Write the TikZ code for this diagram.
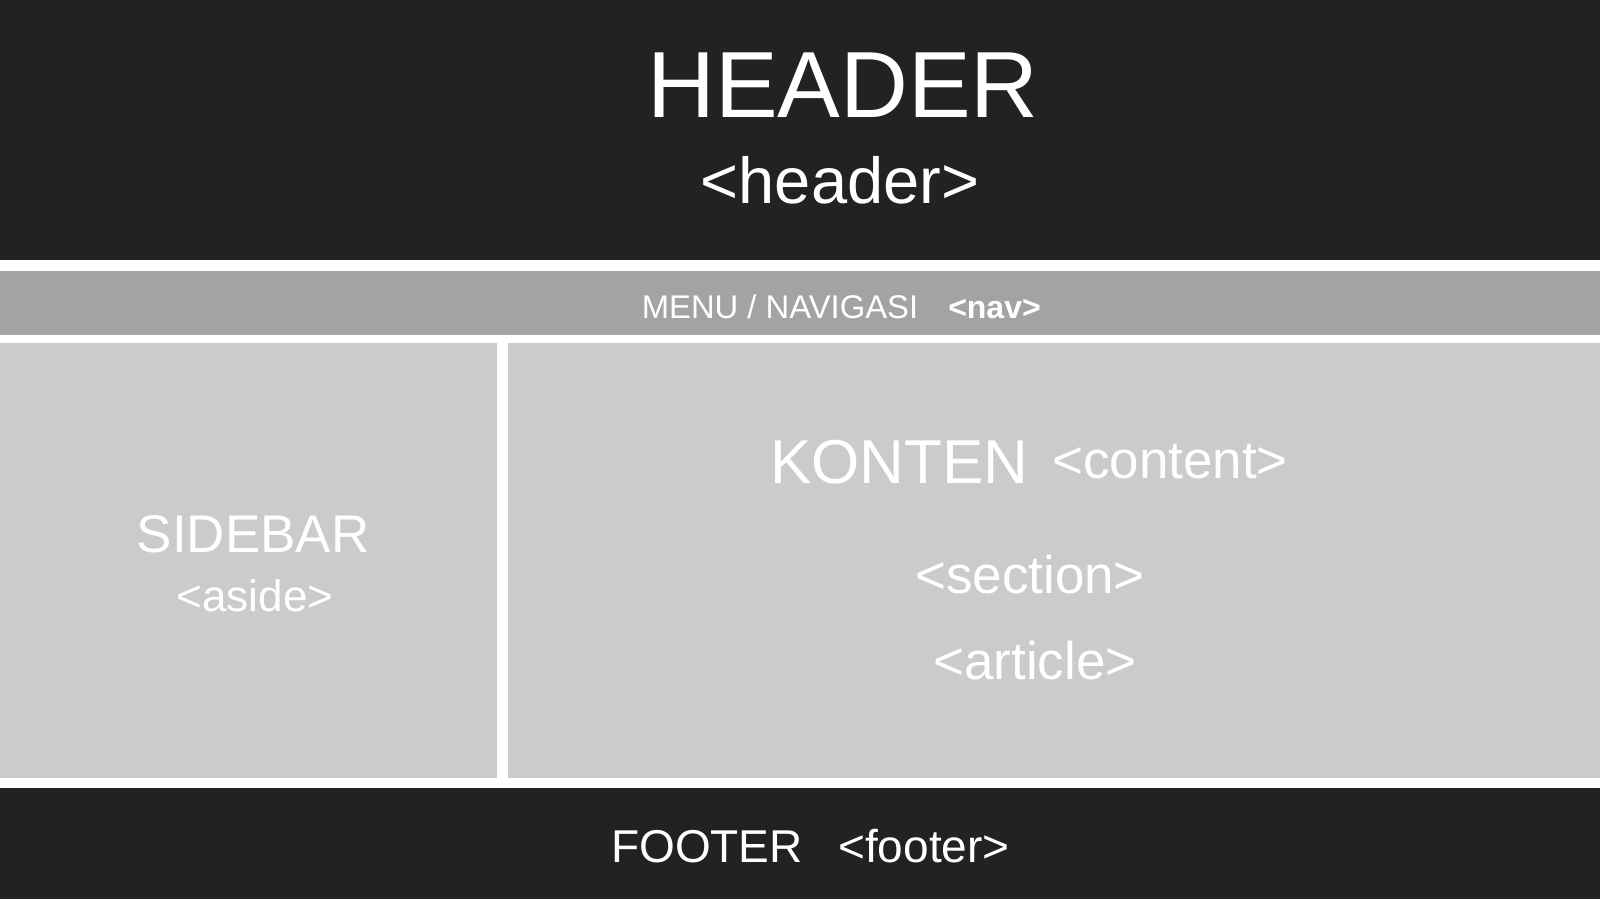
\documentclass[tikz,border=0pt]{standalone}
\usepackage{fontspec}
\setmainfont{Liberation Sans}
\definecolor{dark}{HTML}{222222}
\definecolor{navgray}{HTML}{A3A3A3}
\definecolor{lightgray}{HTML}{CACBCA}
\begin{document}
\begin{tikzpicture}[x=1pt,y=-1pt,
  lbl/.style={text=white,inner sep=0pt,anchor=base},
  fs/.style={font=\fontsize{#1}{#1}\selectfont}]
\useasboundingbox (0,0) rectangle (1600,899);
\fill[white] (0,0) rectangle (1600,899);
\fill[dark] (0,0) rectangle (1600,260);
\fill[navgray] (0,271) rectangle (1600,335);
\fill[lightgray] (0,343) rectangle (497,778);
\fill[lightgray] (508,343) rectangle (1600,778);
\fill[dark] (0,788) rectangle (1600,899);
\node[lbl,fs=94] (header) at (843,117) {HEADER};
\node[lbl,fs=65] (headertag) at (840,203) {<header>};
\node[lbl,fs=32.8] (nav) at (780,318) {MENU / NAVIGASI};
\node[lbl,font=\fontsize{32}{32}\selectfont\bfseries] (navtag) at (994.5,318) {<nav>};
\node[lbl,fs=62] (konten) at (899.5,483) {KONTEN};
\node[lbl,fs=53] (contenttag) at (1170,478) {<content>};
\node[lbl,fs=53] (section) at (1030,593) {<section>};
\node[lbl,fs=53] (article) at (1035,679) {<article>};
\node[lbl,fs=53] (sidebar) at (253,552) {SIDEBAR};
\node[lbl,fs=44] (aside) at (255,611) {<aside>};
\node[lbl,fs=46] (footer) at (707,862) {FOOTER};
\node[lbl,fs=46] (footertag) at (924,862) {<footer>};
\end{tikzpicture}
\end{document}
